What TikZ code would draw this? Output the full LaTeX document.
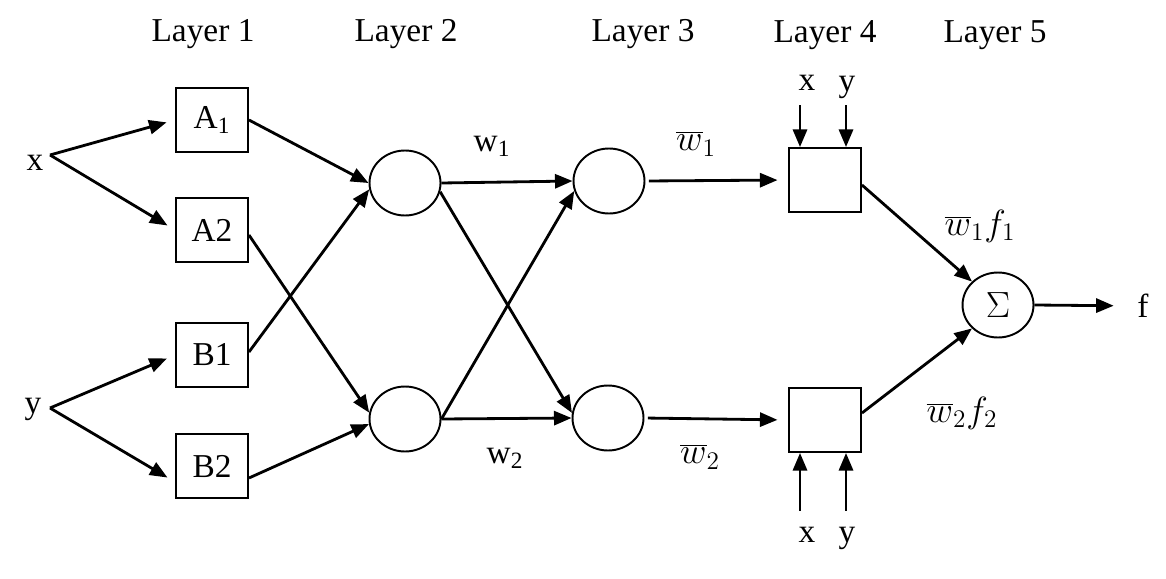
\documentclass[tikz,border=0pt]{standalone}
\usepackage{fontspec}
\setmainfont{Liberation Serif}
\usetikzlibrary{arrows.meta,shapes.geometric}

\begin{document}
\begin{tikzpicture}[x=0.02cm, y=-0.02cm,
    every node/.style={font=\fontsize{19}{22}\selectfont},
    mathlbl/.style={font=\fontsize{22}{24}\selectfont},
    box/.style={draw, line width=1.1pt, minimum width=1.44cm, minimum height=1.28cm, inner sep=0pt},
    neuron/.style={draw, ellipse, line width=1.1pt, minimum width=1.42cm, minimum height=1.3cm, inner sep=0pt},
    link/.style={line width=1.6pt, -{Triangle[length=10pt,width=8pt]}}]
    \useasboundingbox (0,0) rectangle (1166,578);
    % layer titles
    \node (t1) at (203,34) {Layer 1};
    \node (t2) at (406,34) {Layer 2};
    \node (t3) at (643,34) {Layer 3};
    \node (t4) at (825,35) {Layer 4};
    \node (t5) at (995,35) {Layer 5};
    % inputs
    \node (x) at (35,163) {x};
    \node (y) at (33,409) {y};
    \coordinate (xin) at (50,155);
    \coordinate (yin) at (50,408);
    % layer 1
    \node[box] (A1) at (212,120) {A\textsubscript{1}};
    \node[box] (A2) at (212,230) {A2};
    \node[box] (B1) at (212,355) {B1};
    \node[box] (B2) at (212,466) {B2};
    % layers 2 and 3
    \node[neuron] (m1) at (405,183) {};
    \node[neuron] (m2) at (405,419) {};
    \node[neuron] (n1) at (609,181) {};
    \node[neuron] (n2) at (608,418) {};
    % layer 4 and 5
    \node[box] (p1) at (825,180) {};
    \node[box] (p2) at (825,420) {};
    \node[neuron, mathlbl] (s) at (998,305) {$\Sigma$};
    \node (f) at (1143,306) {f};
    % edge labels
    \node (w1) at (492,146) {w\textsubscript{1}};
    \node (w2) at (505,458) {w\textsubscript{2}};
    \node[mathlbl] (wb1) at (696,144) {$\overline{w}_1$};
    \node[mathlbl] (wb2) at (700,457) {$\overline{w}_2$};
    \node[mathlbl] (wf1) at (980,226) {$\overline{w}_1 f_1$};
    \node[mathlbl] (wf2) at (962,413) {$\overline{w}_2 f_2$};
    \node (px1) at (807,83) {x};
    \node (py1) at (847,87) {y};
    \node (px2) at (807,535) {x};
    \node (py2) at (847,538) {y};

    \draw[link, shorten >=5pt] (xin) -- (A1.west);
    \draw[link, shorten >=5pt] (xin) -- (A2.west);
    \draw[link, shorten >=5pt] (yin) -- (B1.west);
    \draw[link, shorten >=5pt] (yin) -- ([yshift=-0.32cm]B2.west);

    \draw[link] (A1.east) -- (m1.west);
    \draw[link] ([yshift=-0.1cm]A2.east) -- (m2.170);
    \draw[link] ([yshift=0.06cm]B1.east) -- (m1.190);
    \draw[link] ([yshift=-0.24cm]B2.east) -- (m2.188);

    \draw[link] (m1.east) -- (n1.west);
    \draw[link] (m1.-14) -- (n2.172);
    \draw[link] (m2.east) -- (n1.196);
    \draw[link] (m2.east) -- (n2.west);

    \draw[link, shorten <=2pt, shorten >=6pt] (n1.east) -- (p1.west);
    \draw[link, shorten <=2pt, shorten >=6pt] (n2.east) -- (p2.west);
    \draw[link] ([yshift=-0.1cm]p1.east) -- (s.138);
    \draw[link] ([yshift=0.14cm]p2.east) -- (s.222);
    \draw[link, shorten >=10pt] (s.east) -- (f);

    \draw[link] ([xshift=-0.5cm,yshift=0.84cm]p1.north) -- ([xshift=-0.5cm]p1.north);
    \draw[link] ([xshift=0.42cm,yshift=0.84cm]p1.north) -- ([xshift=0.42cm]p1.north);
    \draw[link] ([xshift=-0.5cm,yshift=-1.16cm]p2.south) -- ([xshift=-0.5cm]p2.south);
    \draw[link] ([xshift=0.42cm,yshift=-1.16cm]p2.south) -- ([xshift=0.42cm]p2.south);
\end{tikzpicture}
\end{document}
